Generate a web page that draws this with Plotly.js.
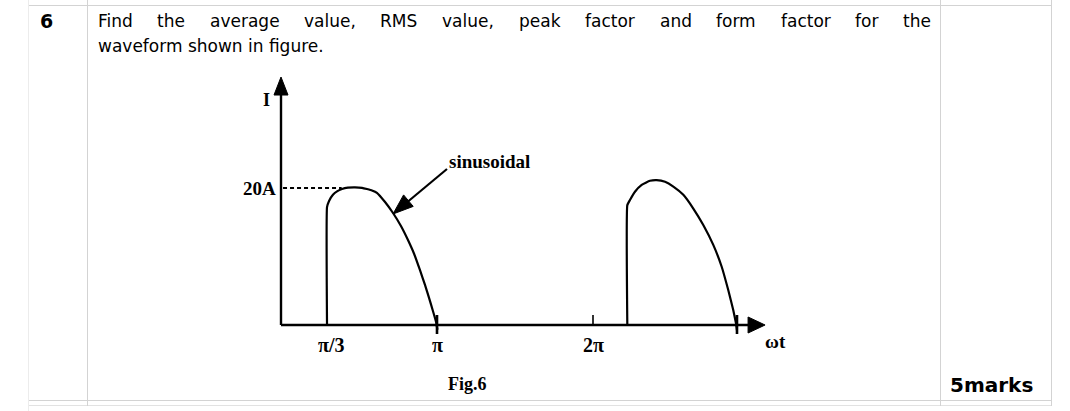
<!DOCTYPE html>
<html>
<head>
<meta charset="utf-8">
<script src="https://cdn.plot.ly/plotly-3.0.1.min.js"></script>
<style>
  html, body { margin: 0; padding: 0; background: #ffffff; }
  #chart { width: 1070px; height: 411px; }
</style>
</head>
<body>
<div id="chart"></div>
<script>
// ---------------- data ----------------
// x in units of pi (as drawn), y in amperes
const wave1X = [0.295, 0.295, 0.308, 0.333, 0.359, 0.391, 0.429, 0.474, 0.519, 0.551, 0.583, 0.615, 0.667, 0.718, 0.769, 0.814, 0.853, 0.891, 0.923, 0.949, 0.974, 0.994, 1.003];
const wave1Y = [0, 17.2, 18.1, 19.0, 19.5, 19.85, 20.05, 20.1, 20.03, 19.85, 19.64, 19.3, 17.95, 16.35, 14.45, 12.4, 10.4, 8.0, 5.85, 3.95, 2.05, 0.45, -0.7];
const wave2X = [2.220, 2.220, 2.237, 2.269, 2.312, 2.365, 2.408, 2.462, 2.515, 2.579, 2.643, 2.707, 2.771, 2.825, 2.867, 2.899, 2.917, 2.923];
const wave2Y = [0, 17.5, 18.25, 19.45, 20.45, 21.05, 21.15, 20.9, 20.2, 19.0, 17.0, 14.6, 11.7, 8.5, 5.1, 2.2, 0.2, -0.8];
const tickVals = [0.295, 1, 2];
const tickText = ['\u03c0/3', '\u03c0', '2\u03c0'];
const markVals = [1, 2, 2.923];          // small tick marks drawn on the axis
const peakValue = 20;
const peakLabel = '20A';
const xAxisEnd = 3.103;
const yAxisEnd = 36.2;
const curveNote = 'sinusoidal';
const axisLabelX = '\u03c9t';
const axisLabelY = 'I';
const figCaption = 'Fig.6';
const questionNo = '6';
const questionLines = [
  'Find the average value, RMS value, peak factor and form factor for the',
  'waveform shown in figure.'
];
const marksText = '5marks';

// ---------------- layout helpers ----------------
const W = 1070, H = 411;
const X0PX = 281, PXPERX = 156;     // axis origin (pixels), pixels per unit pi
const Y0PX = 325, PXPERY = 6.85;    // pixels per ampere
const px = x => x / W;
const py = y => 1 - y / H;

const black = '#000000';
const gridC = '#d3d3d3';
const serif = 'Liberation Serif, Times New Roman, serif';
const sans = 'DejaVu Sans, Verdana, sans-serif';

const traces = [
  { x: wave1X, y: wave1Y, mode: 'lines', line: { color: black, width: 2.2, shape: 'spline', smoothing: 0.35 }, hoverinfo: 'skip', showlegend: false },
  { x: wave2X, y: wave2Y, mode: 'lines', line: { color: black, width: 2.2, shape: 'spline', smoothing: 0.35 }, hoverinfo: 'skip', showlegend: false },
  { x: [0.013, wave1X[0] + 0.094], y: [peakValue, peakValue], mode: 'lines', line: { color: black, width: 1.8, dash: '4px,3px' }, hoverinfo: 'skip', showlegend: false }
];

const shapes = [];
// table lines
function hline(y, x0, x1, c) { shapes.push({ type: 'line', xref: 'paper', yref: 'paper', x0: px(x0), x1: px(x1), y0: py(y), y1: py(y), line: { color: c || gridC, width: 1 } }); }
function vline(x, y0, y1, c) { shapes.push({ type: 'line', xref: 'paper', yref: 'paper', x0: px(x), x1: px(x), y0: py(y0), y1: py(y1), line: { color: c || gridC, width: 1 } }); }
hline(5.5, 28, 1051);
hline(400.5, 28, 1051);
hline(405.5, 28, 1051, '#e2e2e2');
vline(28.5, 0, 411, '#ececec');
vline(87.5, 0, 406);
vline(940.5, 0, 406);
vline(1051.5, 0, 406);

// axes
shapes.push({ type: 'line', xref: 'x', yref: 'y', x0: 0, x1: xAxisEnd - 0.05, y0: 0, y1: 0, line: { color: black, width: 2.4 } });
shapes.push({ type: 'line', xref: 'x', yref: 'y', x0: 0, x1: 0, y0: 0, y1: yAxisEnd - 1.5, line: { color: black, width: 2.4 } });
// arrow heads (pixel sized)
shapes.push({ type: 'path', xref: 'x', yref: 'y', xsizemode: 'pixel', ysizemode: 'pixel', xanchor: 0, yanchor: yAxisEnd,
  path: 'M0,0 L-7,-18 L7,-18 Z', fillcolor: black, line: { color: black, width: 1 } });
shapes.push({ type: 'path', xref: 'x', yref: 'y', xsizemode: 'pixel', ysizemode: 'pixel', xanchor: xAxisEnd, yanchor: 0,
  path: 'M0,0 L-17,8 L-17,-8 Z', fillcolor: black, line: { color: black, width: 1 } });
// tick marks
markVals.forEach((v, i) => {
  shapes.push({ type: 'line', xref: 'x', yref: 'y', xsizemode: 'data', ysizemode: 'pixel', yanchor: 0,
    x0: v, x1: v, y0: i === 1 ? 0 : -9, y1: 10, line: { color: black, width: i === 1 ? 1.6 : 2.6 } });
});
// "sinusoidal" pointer arrow
const tipX = (393 - X0PX) / PXPERX, tipY = (Y0PX - 214) / PXPERY;
const tailX = (447 - X0PX) / PXPERX, tailY = (Y0PX - 169) / PXPERY;
shapes.push({ type: 'line', xref: 'x', yref: 'y', x0: tailX, y0: tailY, x1: tipX + 12 / PXPERX, y1: tipY + 10 / PXPERY, line: { color: black, width: 2.2 } });
shapes.push({ type: 'path', xref: 'x', yref: 'y', xsizemode: 'pixel', ysizemode: 'pixel', xanchor: tipX, yanchor: tipY,
  path: 'M0,0 L20.2,7.6 L10.6,19.1 Z', fillcolor: black, line: { color: black, width: 1 } });

// ---------------- annotations ----------------
const annotations = [];
function txt(text, x, y, size, family, anchor, bold) {
  annotations.push({
    text: bold ? '<b>' + text + '</b>' : text,
    x: px(x), y: py(y), xref: 'paper', yref: 'paper',
    xanchor: anchor || 'center', yanchor: 'middle', showarrow: false,
    borderpad: 0, borderwidth: 0,
    font: { family: family, size: size, color: black }
  });
}
// figure labels
txt(axisLabelY, 266, 100, 18, serif, 'center', true);
txt(peakLabel, 276, 188.5, 19, serif, 'right', true);
txt(curveNote, 449, 161, 19, serif, 'left', true);
tickVals.forEach((v, i) => {
  annotations.push({ text: '<b>' + tickText[i] + '</b>', x: v, y: 0, xref: 'x', yref: 'y', xanchor: 'center', yanchor: 'middle',
    xshift: i === 0 ? 4 : 0, yshift: -(345 - Y0PX), showarrow: false, borderpad: 0, borderwidth: 0,
    font: { family: serif, size: 20, color: black } });
});
txt(axisLabelX, 775, 341, 19, serif, 'center', true);
txt(figCaption, 467, 384, 18, serif, 'center', true);

// question text (justified first line)
const ctx = document.createElement('canvas').getContext('2d');
ctx.font = '17px "DejaVu Sans"';
const lineLeft = 97.5, lineRight = 931;
const words1 = questionLines[0].split(' ');
const widths = words1.map(w => ctx.measureText(w).width);
const totalW = widths.reduce((a, b) => a + b, 0);
const gap = (lineRight - lineLeft - totalW) / (words1.length - 1);
let cx = lineLeft;
words1.forEach((w, i) => { txt(w, cx, 21.4, 17, sans, 'left', false); cx += widths[i] + gap; });
txt(questionLines[1], lineLeft, 45.5, 17, sans, 'left', false);
txt(questionNo, 46, 21, 19, sans, 'center', true);
txt(marksText, 950, 385, 20, sans, 'left', true);

const layout = {
  width: W, height: H,
  margin: { l: 0, r: 0, t: 0, b: 0, pad: 0 },
  paper_bgcolor: '#ffffff', plot_bgcolor: '#ffffff',
  xaxis: { range: [-X0PX / PXPERX, (W - X0PX) / PXPERX], visible: false, fixedrange: true },
  yaxis: { range: [-(H - Y0PX) / PXPERY, Y0PX / PXPERY], visible: false, fixedrange: true },
  showlegend: false,
  shapes: shapes,
  annotations: annotations
};

Plotly.newPlot('chart', traces, layout, { staticPlot: true, displayModeBar: false });
</script>
</body>
</html>
